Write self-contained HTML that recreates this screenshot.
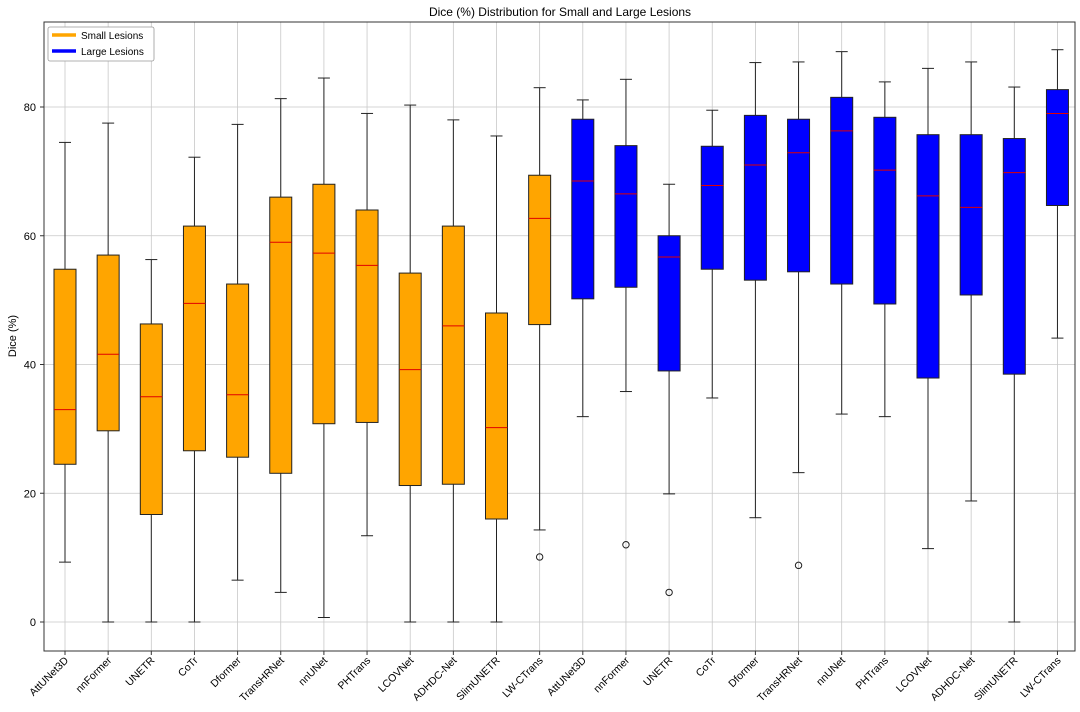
<!DOCTYPE html>
<html><head><meta charset="utf-8"><style>
html,body{margin:0;padding:0;background:#fff;}
svg{display:block;font-family:"Liberation Sans","DejaVu Sans",sans-serif;}
</style></head><body>
<svg id="chart" width="1080" height="712" viewBox="0 0 1080 712" xmlns="http://www.w3.org/2000/svg">
<text x="560" y="16" text-anchor="middle" font-size="12" fill="#000">Dice (%) Distribution for Small and Large Lesions</text>
<text transform="translate(16,336) rotate(-90)" text-anchor="middle" font-size="11" fill="#000">Dice (%)</text>
<g id="grid"></g><g id="boxes"></g><g id="axes"></g>
<g>
<rect x="48" y="27" width="106" height="34" fill="#fff" stroke="#999" stroke-width="0.8" rx="2"/>
<line x1="52" y1="35" x2="76" y2="35" stroke="#ffa500" stroke-width="3.5"/>
<text x="81" y="39" font-size="10">Small Lesions</text>
<line x1="52" y1="51" x2="76" y2="51" stroke="#0000ff" stroke-width="3.5"/>
<text x="81" y="55" font-size="10">Large Lesions</text>
</g>
</svg>
<script>
const categories=["AttUNet3D","nnFormer","UNETR","CoTr","Dformer","TransHRNet","nnUNet","PHTrans","LCOVNet","ADHDC-Net","SlimUNETR","LW-CTrans","AttUNet3D","nnFormer","UNETR","CoTr","Dformer","TransHRNet","nnUNet","PHTrans","LCOVNet","ADHDC-Net","SlimUNETR","LW-CTrans"];
const groups=["small","small","small","small","small","small","small","small","small","small","small","small","large","large","large","large","large","large","large","large","large","large","large","large"];
const whiskLow=[9.3,0,0,0,6.5,4.6,0.7,13.4,0,0,0,14.3,31.9,35.8,19.9,34.8,16.2,23.2,32.3,31.9,11.4,18.8,0,44.1];
const whiskHigh=[74.5,77.5,56.3,72.2,77.3,81.3,84.5,79,80.3,78,75.5,83,81.1,84.3,68,79.5,86.9,87,88.6,83.9,86,87,83.1,88.9];
const q1=[24.5,29.7,16.7,26.6,25.6,23.1,30.8,31,21.2,21.4,16,46.2,50.2,52,39,54.8,53.1,54.4,52.5,49.4,37.9,50.8,38.5,64.7];
const q3=[54.8,57,46.3,61.5,52.5,66,68,64,54.2,61.5,48,69.4,78.1,74,60,73.9,78.7,78.1,81.5,78.4,75.7,75.7,75.1,82.7];
const medians=[33,41.6,35,49.5,35.3,59,57.3,55.4,39.2,46,30.2,62.7,68.5,66.5,56.7,67.8,71,72.9,76.3,70.2,66.2,64.4,69.8,79];
const outliers=[[],[],[],[],[],[],[],[],[],[],[],[10.1],[],[12],[4.6],[],[],[8.8],[],[],[],[],[],[]];
const yTicks=[0,20,40,60,80];
const NS="http://www.w3.org/2000/svg";
const L=44,R=1075,T=22,B=651;
const y=v=>622-v*6.4375;
const x=i=>65+i*43.15;
function mk(tag,at,parent){const e=document.createElementNS(NS,tag);for(const k in at)e.setAttribute(k,at[k]);parent.appendChild(e);return e;}
const grid=document.getElementById('grid'),boxes=document.getElementById('boxes'),axes=document.getElementById('axes');
yTicks.forEach(v=>{
 const g=mk('line',{x1:L,x2:R,y1:y(v),y2:y(v),stroke:'#c8c8c8','stroke-width':0.8},grid);
 
 
 mk('line',{x1:L-4,x2:L,y1:y(v),y2:y(v),stroke:'#333'},axes);
 const t=mk('text',{x:L-8,y:y(v)+4,'text-anchor':'end','font-size':11},axes);t.textContent=v;
 
 
});
categories.forEach((c,i)=>{
 const cx=x(i),hw=11;
 mk('line',{x1:cx,x2:cx,y1:T,y2:B,stroke:'#c8c8c8','stroke-width':0.8},grid);
 const g=mk('g',{},boxes);
 
 
 mk('line',{x1:cx,x2:cx,y1:y(whiskLow[i]),y2:y(q1[i]),stroke:'#222','stroke-width':1},g);
 mk('line',{x1:cx,x2:cx,y1:y(q3[i]),y2:y(whiskHigh[i]),stroke:'#222','stroke-width':1},g);
 mk('line',{x1:cx-6,x2:cx+6,y1:y(whiskLow[i]),y2:y(whiskLow[i]),stroke:'#222','stroke-width':1},g);
 mk('line',{x1:cx-6,x2:cx+6,y1:y(whiskHigh[i]),y2:y(whiskHigh[i]),stroke:'#222','stroke-width':1},g);
 mk('rect',{x:cx-hw,y:y(q3[i]),width:2*hw,height:y(q1[i])-y(q3[i]),fill:groups[i]==='small'?'#ffa500':'#0000ff',stroke:'#222','stroke-width':1},g);
 mk('line',{x1:cx-hw,x2:cx+hw,y1:y(medians[i]),y2:y(medians[i]),stroke:'#e00000','stroke-width':1},g);
 outliers[i].forEach(o=>{mk('circle',{cx:cx,cy:y(o),r:3.2,fill:'none',stroke:'#222','stroke-width':1},g);});
 mk('line',{x1:cx,x2:cx,y1:B,y2:B+4,stroke:'#333'},axes);
 const t=mk('text',{transform:`translate(${cx+4},${B+10}) rotate(-45)`,'text-anchor':'end','font-size':10.5},axes);
 t.textContent=c;
 
 
});
mk('rect',{x:L,y:T,width:R-L,height:B-T,fill:'none',stroke:'#333','stroke-width':1},axes);
</script>
</body></html>
